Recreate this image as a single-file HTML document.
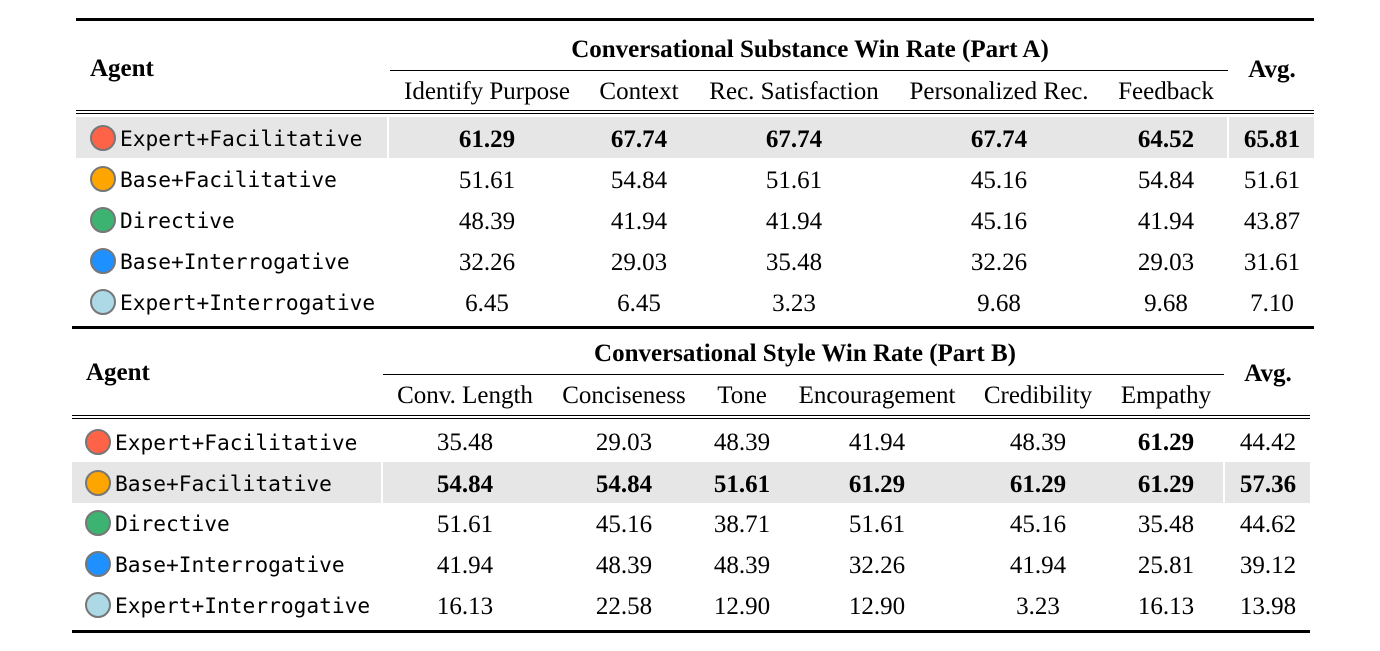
<!DOCTYPE html>
<html><head><meta charset="utf-8"><style>
html,body{margin:0;padding:0;background:#fff;}
svg text{font-family:"Liberation Serif",serif;font-size:25px;fill:#000;}
svg text.m{font-family:"DejaVu Sans Mono","Liberation Mono",monospace;font-size:21.2px;}
svg text.b{font-weight:bold;}
</style></head><body>
<svg width="1380" height="646" viewBox="0 0 1380 646" xmlns="http://www.w3.org/2000/svg">
<rect x="76" y="117" width="1238" height="41" fill="#e6e6e6"/>
<line x1="388" y1="117" x2="388" y2="158" stroke="#fff" stroke-width="2"/>
<line x1="1228" y1="117" x2="1228" y2="158" stroke="#fff" stroke-width="2"/>
<line x1="76" y1="19.5" x2="1314" y2="19.5" stroke="#000" stroke-width="3"/>
<text x="90" y="76" class="b">Agent</text>
<text x="810" y="57" class="b" text-anchor="middle">Conversational Substance Win Rate (Part A)</text>
<text x="1272" y="77" class="b" text-anchor="middle">Avg.</text>
<line x1="390" y1="70.5" x2="1228" y2="70.5" stroke="#000" stroke-width="1"/>
<g text-anchor="middle">
<text x="487" y="99">Identify Purpose</text>
<text x="639" y="99">Context</text>
<text x="794" y="99">Rec. Satisfaction</text>
<text x="999" y="99">Personalized Rec.</text>
<text x="1166" y="99">Feedback</text>
</g>
<line x1="76" y1="110.5" x2="1314" y2="110.5" stroke="#000" stroke-width="1"/>
<line x1="76" y1="113.5" x2="1314" y2="113.5" stroke="#000" stroke-width="1"/>
<g stroke="#777" stroke-width="2">
<circle cx="103" cy="138" r="12" fill="#ff6347"/>
<circle cx="103" cy="179" r="12" fill="#ffa500"/>
<circle cx="103" cy="220" r="12" fill="#3cb371"/>
<circle cx="103" cy="261" r="12" fill="#1e90ff"/>
<circle cx="103" cy="302" r="12" fill="#add8e6"/>
</g>
<text class="m" x="120" y="146">Expert+Facilitative</text>
<text class="m" x="120" y="187">Base+Facilitative</text>
<text class="m" x="120" y="228">Directive</text>
<text class="m" x="120" y="269">Base+Interrogative</text>
<text class="m" x="120" y="310">Expert+Interrogative</text>
<g text-anchor="middle">
<text class="b" x="487" y="147">61.29</text><text class="b" x="639" y="147">67.74</text><text class="b" x="794" y="147">67.74</text><text class="b" x="999" y="147">67.74</text><text class="b" x="1166" y="147">64.52</text><text class="b" x="1272" y="147">65.81</text>
<text x="487" y="188">51.61</text><text x="639" y="188">54.84</text><text x="794" y="188">51.61</text><text x="999" y="188">45.16</text><text x="1166" y="188">54.84</text><text x="1272" y="188">51.61</text>
<text x="487" y="229">48.39</text><text x="639" y="229">41.94</text><text x="794" y="229">41.94</text><text x="999" y="229">45.16</text><text x="1166" y="229">41.94</text><text x="1272" y="229">43.87</text>
<text x="487" y="270">32.26</text><text x="639" y="270">29.03</text><text x="794" y="270">35.48</text><text x="999" y="270">32.26</text><text x="1166" y="270">29.03</text><text x="1272" y="270">31.61</text>
<text x="487" y="311">6.45</text><text x="639" y="311">6.45</text><text x="794" y="311">3.23</text><text x="999" y="311">9.68</text><text x="1166" y="311">9.68</text><text x="1272" y="311">7.10</text>
</g>
<line x1="72" y1="327.5" x2="1314" y2="327.5" stroke="#000" stroke-width="3"/>
<rect x="72" y="462" width="1238" height="41" fill="#e6e6e6"/>
<line x1="382" y1="462" x2="382" y2="503" stroke="#fff" stroke-width="2"/>
<line x1="1224" y1="462" x2="1224" y2="503" stroke="#fff" stroke-width="2"/>
<text x="86" y="380" class="b">Agent</text>
<text x="805" y="361" class="b" text-anchor="middle">Conversational Style Win Rate (Part B)</text>
<text x="1268" y="381" class="b" text-anchor="middle">Avg.</text>
<line x1="383" y1="374.5" x2="1224" y2="374.5" stroke="#000" stroke-width="1"/>
<g text-anchor="middle">
<text x="465" y="403">Conv. Length</text>
<text x="624" y="403">Conciseness</text>
<text x="742" y="403">Tone</text>
<text x="877" y="403">Encouragement</text>
<text x="1038" y="403">Credibility</text>
<text x="1166" y="403">Empathy</text>
</g>
<line x1="72" y1="415.5" x2="1310" y2="415.5" stroke="#000" stroke-width="1"/>
<line x1="72" y1="418.5" x2="1310" y2="418.5" stroke="#000" stroke-width="1"/>
<g stroke="#777" stroke-width="2">
<circle cx="98" cy="442" r="12" fill="#ff6347"/>
<circle cx="98" cy="483" r="12" fill="#ffa500"/>
<circle cx="98" cy="523" r="12" fill="#3cb371"/>
<circle cx="98" cy="564" r="12" fill="#1e90ff"/>
<circle cx="98" cy="605" r="12" fill="#add8e6"/>
</g>
<text class="m" x="115" y="450">Expert+Facilitative</text>
<text class="m" x="115" y="491">Base+Facilitative</text>
<text class="m" x="115" y="531">Directive</text>
<text class="m" x="115" y="572">Base+Interrogative</text>
<text class="m" x="115" y="613">Expert+Interrogative</text>
<g text-anchor="middle">
<text x="465" y="450">35.48</text><text x="624" y="450">29.03</text><text x="742" y="450">48.39</text><text x="877" y="450">41.94</text><text x="1038" y="450">48.39</text><text class="b" x="1166" y="450">61.29</text><text x="1268" y="450">44.42</text>
<text class="b" x="465" y="492">54.84</text><text class="b" x="624" y="492">54.84</text><text class="b" x="742" y="492">51.61</text><text class="b" x="877" y="492">61.29</text><text class="b" x="1038" y="492">61.29</text><text class="b" x="1166" y="492">61.29</text><text class="b" x="1268" y="492">57.36</text>
<text x="465" y="532">51.61</text><text x="624" y="532">45.16</text><text x="742" y="532">38.71</text><text x="877" y="532">51.61</text><text x="1038" y="532">45.16</text><text x="1166" y="532">35.48</text><text x="1268" y="532">44.62</text>
<text x="465" y="573">41.94</text><text x="624" y="573">48.39</text><text x="742" y="573">48.39</text><text x="877" y="573">32.26</text><text x="1038" y="573">41.94</text><text x="1166" y="573">25.81</text><text x="1268" y="573">39.12</text>
<text x="465" y="614">16.13</text><text x="624" y="614">22.58</text><text x="742" y="614">12.90</text><text x="877" y="614">12.90</text><text x="1038" y="614">3.23</text><text x="1166" y="614">16.13</text><text x="1268" y="614">13.98</text>
</g>
<line x1="72" y1="631.5" x2="1310" y2="631.5" stroke="#000" stroke-width="3"/>
</svg>
</body></html>
